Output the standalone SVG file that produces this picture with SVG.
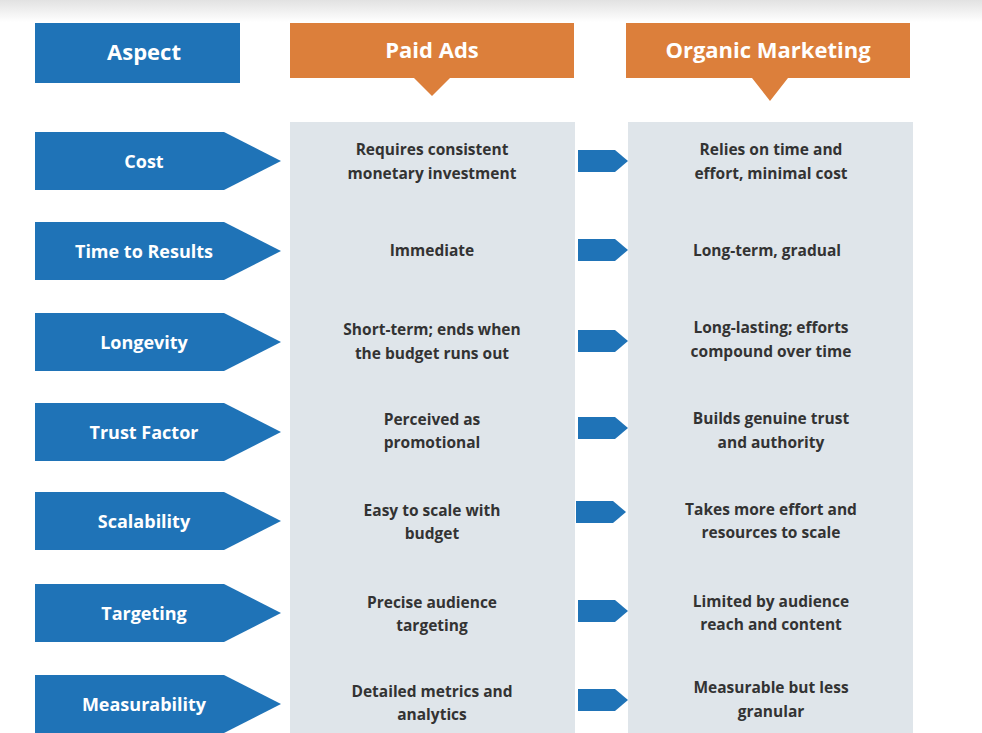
<svg xmlns="http://www.w3.org/2000/svg" width="982" height="733" viewBox="0 0 982 733">
<style>
.hd{font-family:"Open Sans","Liberation Sans",sans-serif;font-weight:700;font-size:22px;fill:#fff;text-anchor:middle}
.as{font-family:"Open Sans","Liberation Sans",sans-serif;font-weight:700;font-size:18px;fill:#fff;text-anchor:middle}
.ct{font-family:"Open Sans","Liberation Sans",sans-serif;font-weight:700;font-size:15.5px;fill:#333;text-anchor:middle}
.blue{fill:#1f73b7}.or{fill:#dc7f3b}.pn{fill:#dfe5ea}
</style>
<defs>
<linearGradient id="tg" x1="0" y1="0" x2="0" y2="1"><stop offset="0" stop-color="#e2e2e2"/><stop offset="1" stop-color="#fff"/></linearGradient>
<polygon id="big" points="0,0 189,0 246,29 189,58 0,58"/>
<polygon id="sm" points="0,0 37,0 50,11 37,22 0,22"/>
</defs>
<rect width="982" height="733" fill="#fff"/>
<rect width="982" height="22" fill="url(#tg)"/>
<rect class="pn" x="290" y="122" width="285" height="611"/>
<rect class="pn" x="628" y="122" width="285" height="611"/>
<g id="h-aspect"><rect class="blue" x="35" y="23" width="205" height="60"/><text class="hd" x="144" y="60">Aspect</text></g>
<g id="h-paid"><polygon class="or" points="290,23 574,23 574,78 450,78 432,96 414,78 290,78"/><text class="hd" x="432" y="58">Paid Ads</text></g>
<g id="h-org"><polygon class="or" points="626,23 910,23 910,78 788,78 770,101 752,78 626,78"/><text class="hd" x="768" y="58">Organic Marketing</text></g>
<g id="r1"><use href="#big" class="blue" x="35" y="132"/><text class="as" x="144" y="168">Cost</text><text class="ct" x="432" y="155">Requires consistent</text><text class="ct" x="432" y="179">monetary investment</text><text class="ct" x="771" y="155">Relies on time and</text><text class="ct" x="771" y="179">effort, minimal cost</text></g>
<g id="r2"><use href="#big" class="blue" x="35" y="222"/><text class="as" x="144" y="258">Time to Results</text><text class="ct" x="432" y="256">Immediate</text><text class="ct" x="767" y="256">Long-term, gradual</text></g>
<g id="r3"><use href="#big" class="blue" x="35" y="313"/><text class="as" x="144" y="349">Longevity</text><text class="ct" x="432" y="335">Short-term; ends when</text><text class="ct" x="432" y="359">the budget runs out</text><text class="ct" x="771" y="333">Long-lasting; efforts</text><text class="ct" x="771" y="357">compound over time</text></g>
<g id="r4"><use href="#big" class="blue" x="35" y="403"/><text class="as" x="144" y="439">Trust Factor</text><text class="ct" x="432" y="425">Perceived as</text><text class="ct" x="432" y="448">promotional</text><text class="ct" x="771" y="424">Builds genuine trust</text><text class="ct" x="771" y="448">and authority</text></g>
<g id="r5"><use href="#big" class="blue" x="35" y="492"/><text class="as" x="144" y="528">Scalability</text><text class="ct" x="432" y="516">Easy to scale with</text><text class="ct" x="432" y="539">budget</text><text class="ct" x="771" y="515">Takes more effort and</text><text class="ct" x="771" y="538">resources to scale</text></g>
<g id="r6"><use href="#big" class="blue" x="35" y="584"/><text class="as" x="144" y="620">Targeting</text><text class="ct" x="432" y="608">Precise audience</text><text class="ct" x="432" y="631">targeting</text><text class="ct" x="771" y="607">Limited by audience</text><text class="ct" x="771" y="630">reach and content</text></g>
<g id="r7"><use href="#big" class="blue" x="35" y="675"/><text class="as" x="144" y="711">Measurability</text><text class="ct" x="432" y="697">Detailed metrics and</text><text class="ct" x="432" y="720">analytics</text><text class="ct" x="771" y="693">Measurable but less</text><text class="ct" x="771" y="717">granular</text></g>
<g id="connectors">
<use href="#sm" class="blue" x="578" y="150"/>
<use href="#sm" class="blue" x="578" y="239"/>
<use href="#sm" class="blue" x="578" y="330"/>
<use href="#sm" class="blue" x="578" y="417"/>
<use href="#sm" class="blue" x="576" y="501"/>
<use href="#sm" class="blue" x="578" y="600"/>
<use href="#sm" class="blue" x="578" y="689"/>
</g>
</svg>
